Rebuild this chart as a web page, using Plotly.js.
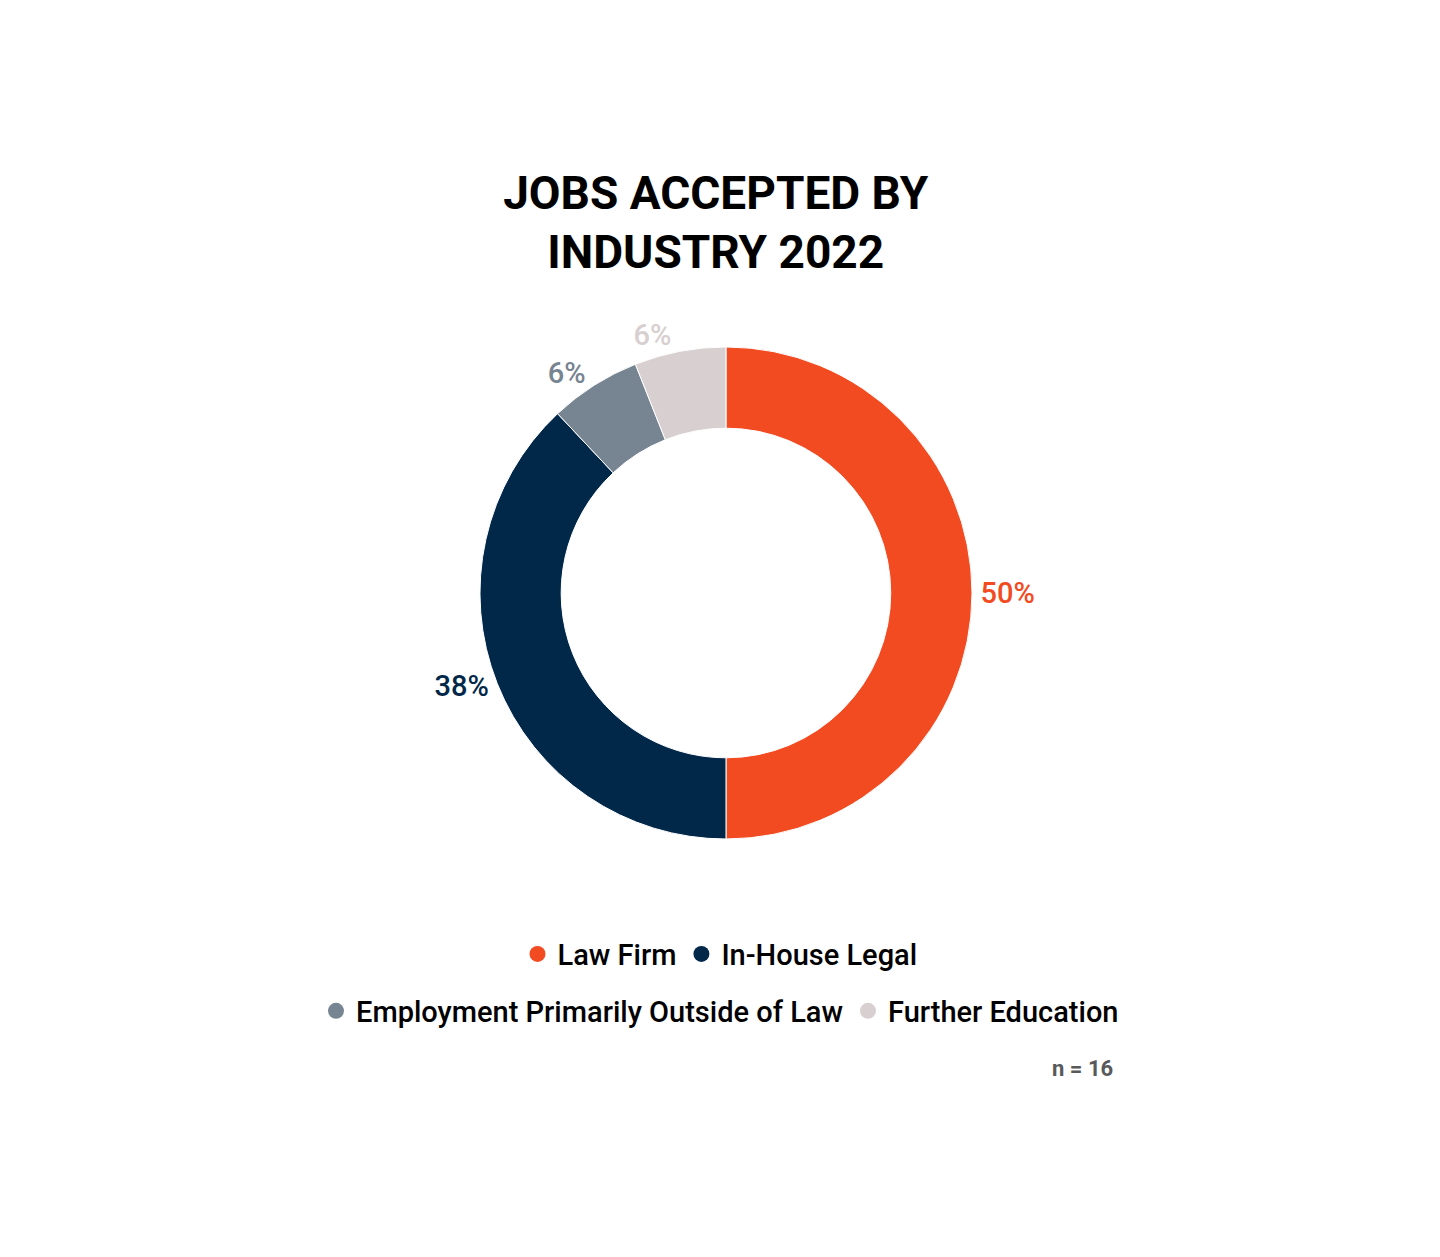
<!DOCTYPE html>
<html>
<head>
<meta charset="utf-8">
<script src="https://cdn.plot.ly/plotly-3.0.1.min.js"></script>
<style>
  body { margin: 0; background: #fff; }
  #chart { width: 1440px; height: 1257px; }
</style>
</head>
<body>
<div id="chart"></div>
<script>
// Jobs accepted by industry, 2022 (n = 16)
const industries = ['Law Firm', 'In-House Legal', 'Employment Primarily Outside of Law', 'Further Education'];
const shares = [50, 38, 6, 6];
const sliceColors = ['#F24A21', '#012749', '#778491', '#D7CFD0'];
const sampleNote = 'n = 16';

const FONT = 'Roboto, "Open Sans", sans-serif';

const donut = {
    type: 'pie',
    labels: industries,
    values: shares,
    sort: false,
    direction: 'clockwise',
    rotation: 0,
    hole: 0.67,
    marker: { colors: sliceColors, line: { color: '#ffffff', width: 1 } },
    textinfo: 'percent',
    textposition: 'outside',
    textfont: { family: FONT, size: 29, color: sliceColors, weight: 500 },
    domain: { x: [0.2333, 0.78], y: [0.3325, 0.724] },
    showlegend: false,
    hoverinfo: 'label+percent'
};

// legend entries with round markers; first two on the top row, last two below
const legendItems = industries.map((name, i) => ({
    type: 'scatter',
    mode: 'markers',
    x: [null],
    y: [null],
    name: name,
    legend: i < 2 ? 'legend' : 'legend2',
    marker: { color: sliceColors[i], size: 20, symbol: 'circle' },
    showlegend: true,
    hoverinfo: 'skip'
}));

const legendStyle = {
    orientation: 'h',
    x: 0.5,
    xanchor: 'center',
    yanchor: 'middle',
    font: { family: FONT, size: 29, color: '#000000', weight: 500 },
    itemclick: false,
    itemdoubleclick: false
};

const layout = {
    width: 1440,
    height: 1257,
    paper_bgcolor: '#ffffff',
    plot_bgcolor: '#ffffff',
    margin: { l: 270, r: 270, t: 0, b: 0 },
    title: {
        text: '<b>JOBS ACCEPTED BY<br>INDUSTRY 2022</b>',
        font: { family: FONT, size: 46, color: '#000000' },
        x: 0.497,
        xanchor: 'center',
        y: 0.834,
        yanchor: 'middle'
    },
    xaxis: { visible: false },
    yaxis: { visible: false },
    showlegend: true,
    legend: Object.assign({}, legendStyle, { y: 0.241 }),
    legend2: Object.assign({}, legendStyle, { y: 0.1957 }),
    annotations: [{
        text: '<b>' + sampleNote + '</b>',
        xref: 'paper',
        yref: 'paper',
        x: 0.939,
        y: 0.1496,
        xanchor: 'right',
        yanchor: 'middle',
        showarrow: false,
        font: { family: FONT, size: 22, color: '#58595B' }
    }]
};

Plotly.newPlot('chart', [donut, ...legendItems], layout, { displayModeBar: false, staticPlot: true });
</script>
</body>
</html>
